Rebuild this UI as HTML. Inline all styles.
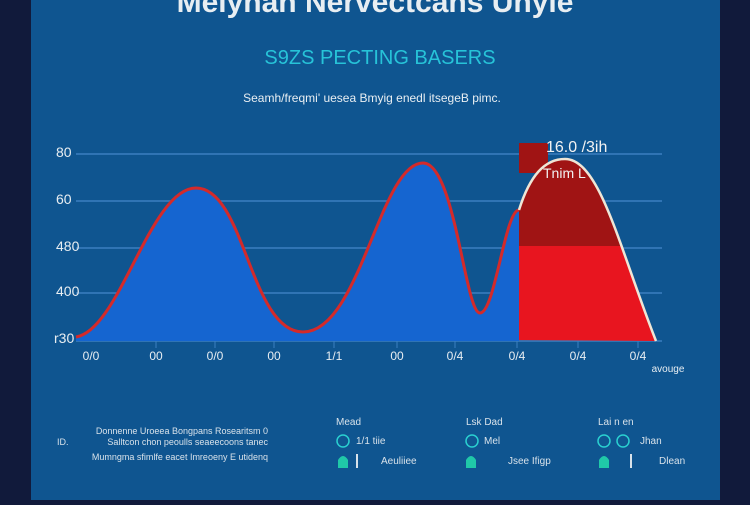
<!DOCTYPE html>
<html><head><style>
body{margin:0;width:750px;height:500px;background:#111a3b;overflow:hidden;font-family:"Liberation Sans",sans-serif}
</style></head><body>
<svg width="750" height="500" xmlns="http://www.w3.org/2000/svg" font-family="Liberation Sans, sans-serif">
<rect x="31" y="0" width="689" height="500" fill="#0f5590"/>
<text x="375" y="12" text-anchor="middle" font-size="30" font-weight="bold" fill="#e8eef2">Meiyhan Nervectcans Unyle</text>
<text x="380" y="64" text-anchor="middle" font-size="20" fill="#27c3d8">S9ZS PECTING BASERS</text>
<text x="372" y="102" text-anchor="middle" font-size="12" fill="#e8eef2">Seamh/freqmi' uesea Bmyig enedl itsegeB pimc.</text>
<g stroke="#3b7fc0" stroke-width="1.5">
<line x1="76" y1="154" x2="662" y2="154"/><line x1="76" y1="201" x2="662" y2="201"/><line x1="76" y1="248" x2="662" y2="248"/><line x1="76" y1="293" x2="662" y2="293"/><line x1="76" y1="341" x2="662" y2="341"/>
</g>
<g font-size="14" fill="#e8eef2">
<text x="56" y="157">80</text><text x="56" y="204">60</text><text x="56" y="251">480</text><text x="56" y="296">400</text><text x="54" y="343">r30</text>
</g>
<defs>
<clipPath id="c"><path d="M76,337 C120,330 150,188 196,188 C245,188 250,332 303,332 C360,332 380,163 423,163 C455,163 465,313 480,313 C495,313 505,210 519,210 C530,175 545,159 565,159 C600,159 620,250 656,341 L656,341 Z"/></clipPath>
</defs>
<path d="M76,337 C120,330 150,188 196,188 C245,188 250,332 303,332 C360,332 380,163 423,163 C455,163 465,313 480,313 C495,313 505,210 519,210 L519,341 L76,341 Z" fill="#1565d0"/>
<g clip-path="url(#c)">
<rect x="519" y="140" width="150" height="106" fill="#a01414"/>
<rect x="519" y="246" width="150" height="95" fill="#e8151f"/>
</g>
<rect x="519" y="143" width="29" height="30" fill="#a01414"/>
<path d="M76,337 C120,330 150,188 196,188 C245,188 250,332 303,332 C360,332 380,163 423,163 C455,163 465,313 480,313 C495,313 505,210 519,210" fill="none" stroke="#d42a2a" stroke-width="3"/>
<path d="M519,210 C530,175 545,159 565,159 C600,159 620,250 656,341" fill="none" stroke="#efe6d6" stroke-width="2.5"/>
<text x="546" y="152" font-size="16" fill="#f2f2f2">16.0 /3ih</text>
<text x="543" y="178" font-size="14" fill="#f2f2f2">Tnim L</text>
<g stroke="#3b7fc0" stroke-width="1"><line x1="156" y1="341" x2="156" y2="348"/><line x1="215" y1="341" x2="215" y2="348"/><line x1="274" y1="341" x2="274" y2="348"/><line x1="334" y1="341" x2="334" y2="348"/><line x1="397" y1="341" x2="397" y2="348"/><line x1="455" y1="341" x2="455" y2="348"/><line x1="517" y1="341" x2="517" y2="348"/><line x1="578" y1="341" x2="578" y2="348"/><line x1="638" y1="341" x2="638" y2="348"/></g>
<g font-size="12" fill="#e8eef2" text-anchor="middle">
<text x="91" y="360">0/0</text><text x="156" y="360">00</text><text x="215" y="360">0/0</text><text x="274" y="360">00</text><text x="334" y="360">1/1</text><text x="397" y="360">00</text><text x="455" y="360">0/4</text><text x="517" y="360">0/4</text><text x="578" y="360">0/4</text><text x="638" y="360">0/4</text>
</g>
<text x="668" y="372" font-size="10" fill="#e8eef2" text-anchor="middle">avouge</text>
<g font-size="9" fill="#d8e2ea" text-anchor="end">
<text x="268" y="434">Donnenne Uroeea Bongpans Rosearitsm 0</text>
<text x="268" y="445">Salltcon chon peoulls seaeecoons tanec</text>
<text x="268" y="460">Mumngma sfimlfe eacet Imreoeny E utidenq</text>
</g>
<text x="57" y="445" font-size="9" fill="#d8e2ea">ID.</text>
<g font-size="10" fill="#d8e2ea">
<text x="336" y="425">Mead</text><text x="466" y="425">Lsk Dad</text><text x="598" y="425">Lai n en</text>
<text x="356" y="444">1/1 tiie</text><text x="484" y="444">Mel</text><text x="640" y="444">Jhan</text>
<text x="381" y="464">Aeuliiee</text><text x="508" y="464">Jsee Ifigp</text><text x="659" y="464">Dlean</text>
</g>
<g fill="none" stroke="#2ad0d0" stroke-width="1.5">
<circle cx="343" cy="441" r="6"/><circle cx="472" cy="441" r="6"/><circle cx="604" cy="441" r="6"/><circle cx="623" cy="441" r="6"/>
</g>
<g fill="#20c8a8">
<path d="M338,468 L338,460 Q343,452 348,460 L348,468 Z"/><path d="M466,468 L466,460 Q471,452 476,460 L476,468 Z"/><path d="M599,468 L599,460 Q604,452 609,460 L609,468 Z"/>
</g>
<g fill="#d8e2ea"><rect x="356" y="454" width="2" height="14"/><rect x="630" y="454" width="2" height="14"/></g>
</svg>
</body></html>
